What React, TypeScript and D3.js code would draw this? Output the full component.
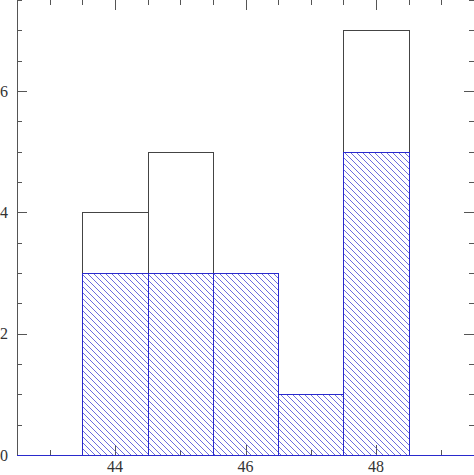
import React from "react";
import * as d3 from "d3";

const binCenters = [44, 45, 46, 47, 48];
const totalCounts = [4, 5, 3, 1, 7];
const subsetCounts = [3, 3, 3, 1, 5];
const xMajorTicks = [44, 46, 48];
const yMajorTicks = [0, 2, 4, 6];

const W = 474;
const H = 475;

export default function App() {
  const x = d3.scaleLinear().domain([42.5, 49.5]).range([17, 474]);
  const y = d3.scaleLinear().domain([0, 7.5]).range([455, 0]);
  const xMinor = d3.range(43, 49.01, 0.5);
  const yMinor = d3.range(0.5, 7.51, 0.5);
  const axisColor = "#555";
  const blue = "#2a2acc";
  const hatchBlue = "#4848d6";
  const bw = 1;
  const serif = "'Liberation Serif', 'Times New Roman', Times, serif";

  return (
    <svg width={W} height={H} style={{ position: "absolute", left: 0, top: 0, background: "#fff" }}>
      <defs>
        <pattern id="hatch" patternUnits="userSpaceOnUse" width={6} height={6}>
          <path d="M-1,-1 L7,7 M-1,5 L1,7 M5,-1 L7,1" stroke={hatchBlue} strokeWidth={0.8} />
        </pattern>
      </defs>
      {/* left axis */}
      <line x1={17.5} x2={17.5} y1={0} y2={455} stroke={axisColor} />
      {/* x ticks */}
      {xMinor.map((v) => {
        const major = xMajorTicks.includes(v);
        const len = major ? 10 : 5;
        const px = Math.round(x(v)) + 0.5;
        return (
          <g key={"xt" + v}>
            <line x1={px} x2={px} y1={455} y2={455 - len} stroke={axisColor} />
            <line x1={px} x2={px} y1={0} y2={len} stroke={axisColor} />
          </g>
        );
      })}
      {/* y ticks */}
      {yMinor.concat([0]).map((v) => {
        const major = yMajorTicks.includes(v);
        const len = major ? 10 : 5;
        const py = Math.round(y(v)) + 0.5;
        return (
          <g key={"yt" + v}>
            <line x1={17} x2={17 + len} y1={py} y2={py} stroke={axisColor} />
            <line x1={474} x2={474 - len} y1={py} y2={py} stroke={axisColor} />
          </g>
        );
      })}
      {/* total histogram outlines */}
      {binCenters.map((c, i) => (
        <rect
          key={"t" + c}
          x={Math.round(x(c - bw / 2)) + 0.5}
          y={Math.round(y(totalCounts[i])) + 0.5}
          width={Math.round(x(c + bw / 2)) - Math.round(x(c - bw / 2))}
          height={Math.round(y(0)) - Math.round(y(totalCounts[i]))}
          fill="none"
          stroke="#444"
          strokeWidth={1}
        />
      ))}
      {/* subset hatched histogram */}
      {binCenters.map((c, i) => (
        <rect
          key={"s" + c}
          x={Math.round(x(c - bw / 2)) + 0.5}
          y={Math.round(y(subsetCounts[i])) + 0.5}
          width={Math.round(x(c + bw / 2)) - Math.round(x(c - bw / 2))}
          height={Math.round(y(0)) - Math.round(y(subsetCounts[i]))}
          fill="url(#hatch)"
          stroke={blue}
          strokeWidth={1}
        />
      ))}
      {/* baseline */}
      <line x1={17} x2={474} y1={455.5} y2={455.5} stroke={blue} />
      {/* labels */}
      {xMajorTicks.map((v) => (
        <text key={"xl" + v} x={x(v)} y={472} textAnchor="middle" fontFamily={serif} fontSize={16} fill="#333">
          {v}
        </text>
      ))}
      {yMajorTicks.map((v) => (
        <text key={"yl" + v} x={8} y={y(v) + 5.5} textAnchor="end" fontFamily={serif} fontSize={16} fill="#333">
          {v}
        </text>
      ))}
    </svg>
  );
}
